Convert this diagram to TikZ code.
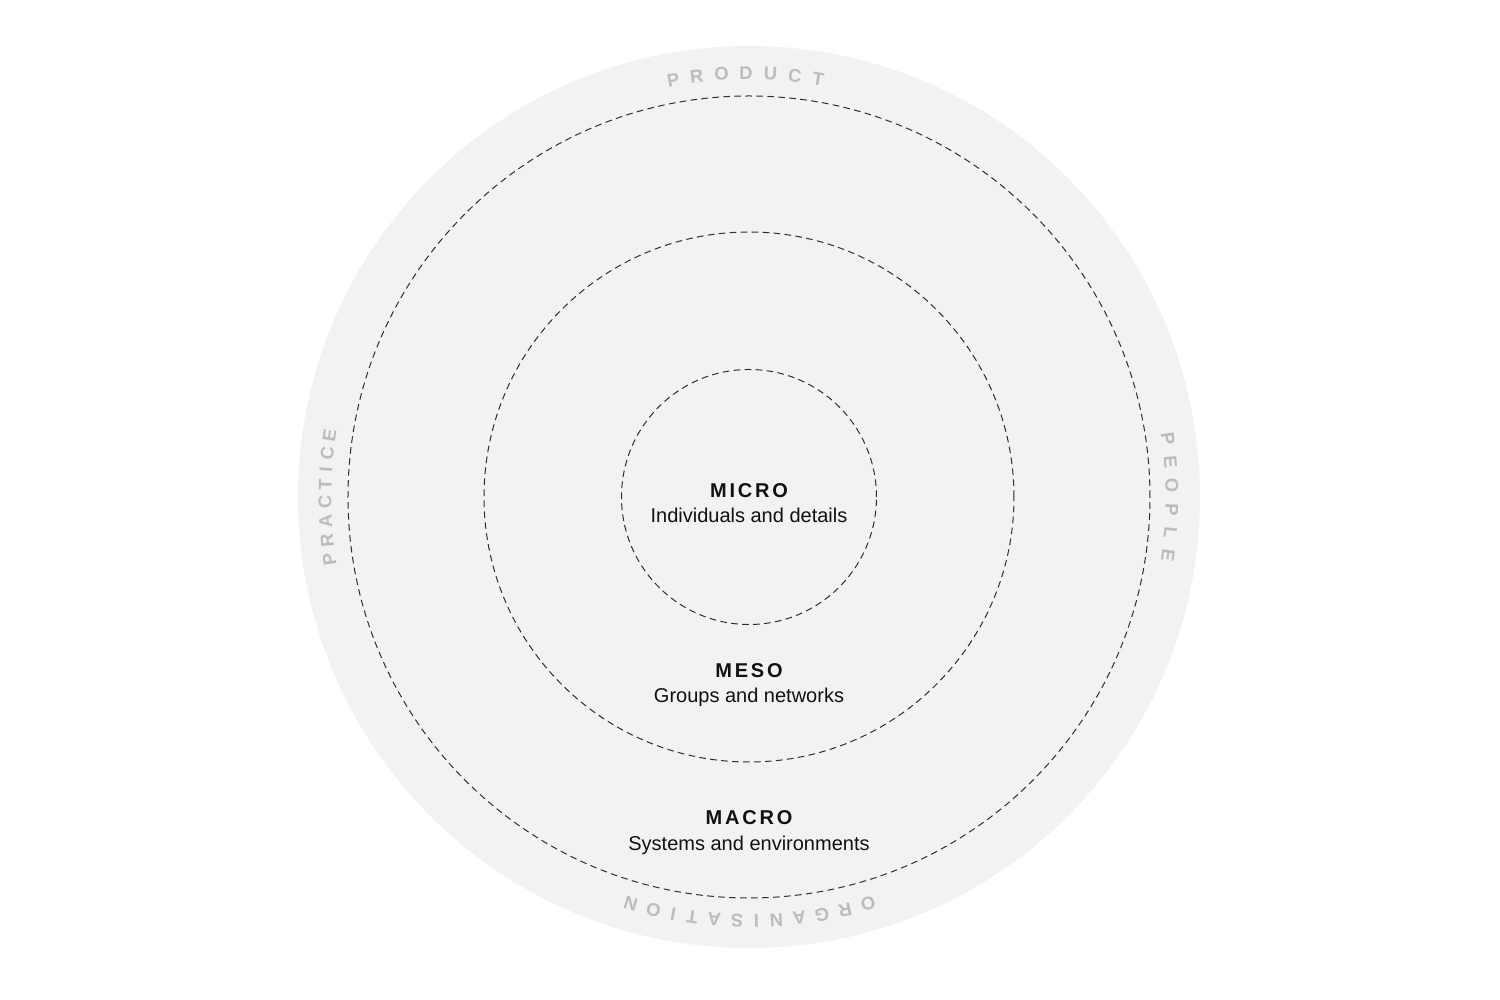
\documentclass[tikz,border=0pt]{standalone}
\usepackage{fontspec}
\setmainfont{Liberation Sans}
\usetikzlibrary{positioning}

\definecolor{discfill}{HTML}{F2F2F2}
\definecolor{ringline}{HTML}{2E2E2E}
\definecolor{arclabel}{HTML}{BCBCBC}
\definecolor{ink}{HTML}{111111}

\tikzset{
  ring/.style={draw=ringline, line width=0.6pt, dash pattern=on 4pt off 2.6pt},
  level/.style={font=\fontsize{12}{14}\selectfont\bfseries\addfontfeature{LetterSpace=14}, text=ink, inner sep=0pt, anchor=base},
  blurb/.style={font=\fontsize{12}{14}\selectfont, text=ink, inner sep=0pt, anchor=base},
  arcletter/.style={font=\fontsize{11}{12}\selectfont\bfseries, text=arclabel, inner sep=0pt}
}

\begin{document}
\begin{tikzpicture}[x=0.6pt, y=0.6pt]
  \useasboundingbox (-749,-503) rectangle (751,497);
  \coordinate (O) at (0,0);

  \fill [discfill] (O) circle [radius=451];
  \draw [ring] (O) circle [radius=401];
  \draw [ring] (O) circle [radius=265];
  \draw [ring] (O) circle [radius=127.5];

  \node [level] (micro) at (0,-1) {MICRO};
  \node [blurb] (microtext) at (0,-26) {Individuals and details};
  \node [level] (meso) at (0,-181) {MESO};
  \node [blurb] (mesotext) at (0,-206) {Groups and networks};
  \node [level] (macro) at (0,-328) {MACRO};
  \node [blurb] (macrotext) at (0,-354) {Systems and environments};

  % labels round the rim, read clockwise
  \foreach \ch/\a [count=\i] in {P/100.3, R/97.1, O/93.7, D/90.4, U/87.1, C/83.8, T/80.6}
    \node [arcletter, rotate=\a-90] (product\i) at (\a:424) {\ch};
  \foreach \ch/\a [count=\i] in {P/7.9, E/4.8, O/1.5, P/-1.7, L/-4.8, E/-7.9}
    \node [arcletter, rotate=\a-90] (people\i) at (\a:423) {\ch};
  \foreach \ch/\a [count=\i] in {O/-73.7, R/-76.9, G/-80.1, A/-83.2, N/-86.3, I/-89.0, S/-91.6, A/-94.7, T/-97.7, I/-100.3, O/-103.0, N/-106.2}
    \node [arcletter, rotate=\a-90] (organisation\i) at (\a:424) {\ch};
  \foreach \ch/\a [count=\i] in {P/188.4, R/185.9, A/183.3, C/180.7, T/178.3, I/176.3, C/174.1, E/171.6}
    \node [arcletter, rotate=\a-90] (practice\i) at (\a:424) {\ch};
\end{tikzpicture}
\end{document}
